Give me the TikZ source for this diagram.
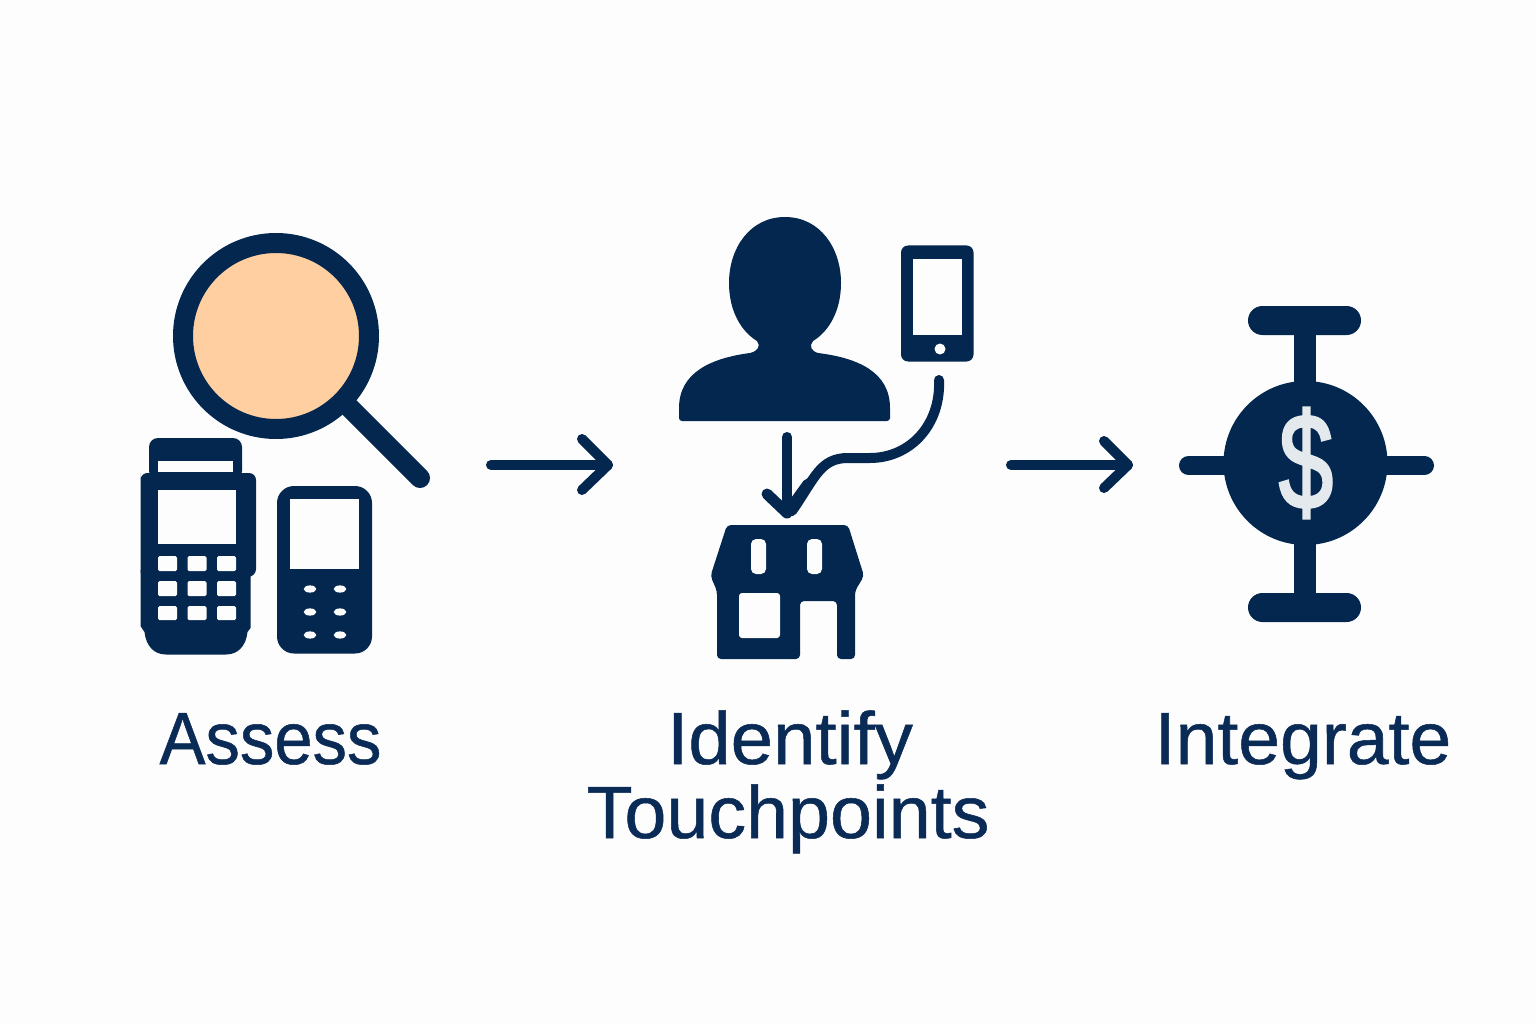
\documentclass[tikz,border=0pt]{standalone}
\usepackage{fontspec}
\setmainfont{Liberation Sans}
\newfontfamily\lblfont[FakeBold=0.7]{Liberation Sans}
\newfontfamily\coinfont[FakeBold=2.2]{Liberation Sans}
\definecolor{navy}{HTML}{03274F}
\definecolor{inktext}{HTML}{0B2B57}
\definecolor{peach}{HTML}{FFCFA1}
\definecolor{bgwhite}{HTML}{FDFDFD}
\definecolor{silver}{HTML}{E4E9EE}
\tikzset{
  solid navy/.style={fill=navy,draw=none},
  hole/.style={fill=bgwhite,draw=none},
  wire/.style={draw=navy,line width=10pt,line cap=round,line join=round},
  bar/.style={draw=navy,line width=20pt,line cap=butt},
  lbl/.style={text=inktext,font=\lblfont\fontsize{74}{74}\selectfont,anchor=base,inner sep=0pt},
}
\begin{document}
\begin{tikzpicture}[x=1pt,y=-1pt]
\useasboundingbox (0,0) rectangle (1536,1024);
\fill[bgwhite] (0,0) rectangle (1536,1024);

% magnifier
\coordinate (hs) at (345,403);
\coordinate (he) at (420,478);
\draw[navy,line width=20pt,line cap=round] (hs) -- (he);
\draw[navy,line width=20pt,fill=peach] (276,336) circle (93);

% payment terminal
\fill[solid navy,rounded corners=9pt] (149,480) -- (149,438) -- (242,438) -- (242,480) -- cycle;
\fill[hole] (158,460.5) rectangle (233,472);
\fill[solid navy,rounded corners=7pt] (140.5,480) -- (140.5,473) -- (256,473) -- (256,576) -- (240,578) -- (140.5,578) -- cycle;
\fill[solid navy] (140.5,570) -- (250.5,570) -- (250.5,628) -- (247.5,632)
  .. controls (246,646) and (238,654.5) .. (226,654.5) -- (166,654.5)
  .. controls (154,654.5) and (146,646) .. (144.5,632) -- (140.5,626) -- cycle;
\fill[hole] (158,490) rectangle (236,544);
\foreach \kx in {158,187.5,217}
  \foreach \ky/\kh in {556/15,581/15,606/14}
    \fill[hole,rounded corners=1.5pt] (\kx,\ky) rectangle ++(19,\kh);

% handset
\fill[solid navy,rounded corners=17pt] (277,486) rectangle (372,653.5);
\fill[hole] (290,499) rectangle (359,569);
\foreach \dy in {589,612,635}
  \foreach \dx in {310,340}
    \fill[hole] (\dx,\dy) ellipse (6.3 and 3.6);

% first arrow
\coordinate (a1s) at (491,465);
\coordinate (a1e) at (608,465);
\draw[wire] (a1s) -- (a1e);
\draw[wire] (582,439) -- (a1e) -- (582,490);

% person
\fill[solid navy] (785,217) .. controls (820,217) and (841,248) .. (841,283)
  .. controls (841,312) and (828,332) .. (813,341)
  .. controls (809,346) and (811,351) .. (818,353)
  .. controls (858,358) and (890,372) .. (890,408)
  -- (890,418) arc (0:90:3) -- (682,421) arc (90:180:3) -- (679,408)
  .. controls (679,372) and (712,358) .. (750,353)
  .. controls (758,351) and (761,346) .. (757,341)
  .. controls (742,332) and (729,312) .. (729,283)
  .. controls (729,248) and (750,217) .. (785,217) -- cycle;

% phone
\fill[solid navy,rounded corners=7pt] (901,245.5) rectangle (973.5,361.5);
\fill[hole] (913,259) rectangle (962,335);
\fill[hole] (940,349) circle (5.5);

% cable and down arrow
\coordinate (cs) at (939,380);
\coordinate (ce) at (792,511);
\coordinate (ds) at (787,437);
\coordinate (de) at (787,513);
\coordinate (armr) at (808,484);
\draw[wire] (cs) .. controls (941,425) and (910,458) .. (870,458)
  -- (848,458) .. controls (820,458) and (815,478) .. (ce);
\draw[wire] (ds) -- (de);
\draw[wire,line width=11pt] (767,494) -- (de) -- (armr);

% shop
\fill[solid navy,rounded corners=4pt] (727,525) -- (848,525) -- (864,576) -- (855,591) -- (855,659)
  -- (837,659) -- (837,601) -- (800,601) -- (800,659) -- (717,659) -- (717,591) -- (710.5,576) -- cycle;
\fill[hole,rounded corners=5pt] (751,539) rectangle (766,574);
\fill[hole,rounded corners=5pt] (807,539) rectangle (822,574);
\fill[hole,rounded corners=3pt] (739,593) rectangle (780,638);

% second arrow
\coordinate (a2s) at (1011,465);
\coordinate (a2e) at (1128,465);
\draw[wire] (a2s) -- (a2e);
\draw[wire] (1104,441) -- (a2e) -- (1104,488);

% coin with bars
\draw[bar,line width=22pt] (1305,330) -- (1305,600);
\draw[bar,line width=19pt,line cap=round] (1188.5,465.5) -- (1424.5,465.5);
\fill[solid navy] (1305.5,463) circle (82);
\fill[solid navy,rounded corners=14.5pt] (1248,306) rectangle (1361,335);
\fill[solid navy,rounded corners=14.5pt] (1248,593) rectangle (1361,622);
\node[text=silver,font=\coinfont\fontsize{136}{136}\selectfont,xscale=.72,anchor=center,inner sep=0pt] (dollar) at (1306,463) {\$};

% labels
\node[lbl,xscale=.93] (assess) at (270.5,764) {Assess};
\node[lbl,xscale=1.03] (identify) at (790,764) {Identify};
\node[lbl,xscale=1.02] (touch) at (788,838) {Touchpoints};
\node[lbl,xscale=1.015] (integrate) at (1303,764) {Integrate};
\end{tikzpicture}
\end{document}
